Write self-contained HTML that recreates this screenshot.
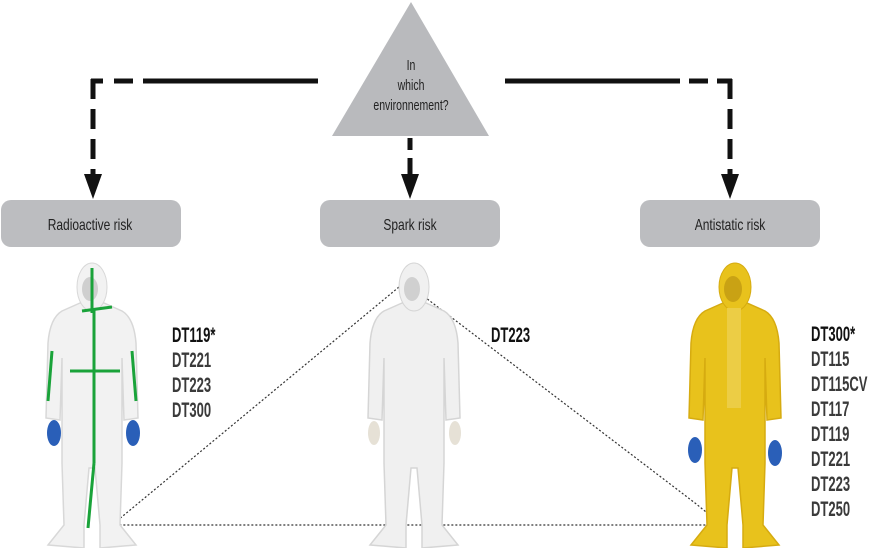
<!DOCTYPE html>
<html><head><meta charset="utf-8"><style>
html,body{margin:0;padding:0;background:#fff;width:870px;height:548px;overflow:hidden}
svg text{font-family:"Liberation Sans",sans-serif}
</style></head><body>
<svg width="870" height="548" viewBox="0 0 870 548" xmlns="http://www.w3.org/2000/svg">
<defs>
<path id="suit" d="M -12,40 L -30,48 Q -42,55 -44,80 L -46,155 L -32,157 L -30,95 L -30,200 L -28,262 L -44,282 L -8,285 L -8,262 L -3,205 L 3,205 L 8,262 L 8,285 L 44,282 L 28,262 L 30,200 L 30,95 L 32,157 L 46,155 L 44,80 Q 42,55 30,48 L 12,40 Z"/>
</defs>
<!-- triangle -->
<polygon points="411,2 332,136 489,136" fill="#b9babd"/>
<g font-size="15" fill="#222" text-anchor="middle">
<text transform="translate(411 70) scale(0.7 1)">In</text>
<text transform="translate(411 90) scale(0.7 1)">which</text>
<text transform="translate(411 110) scale(0.7 1)">environnement?</text>
</g>
<!-- connectors -->
<g stroke="#111" stroke-width="5" fill="none">
<line x1="91" y1="81" x2="318" y2="81"/>
<line x1="505" y1="81" x2="732" y2="81"/>
</g>
<g stroke="#fff" stroke-width="6">
<line x1="103" y1="81" x2="114" y2="81"/><line x1="133" y1="81" x2="143" y2="81"/>
<line x1="680" y1="81" x2="689" y2="81"/><line x1="708" y1="81" x2="717" y2="81"/>
</g>
<g stroke="#111" stroke-width="5" stroke-dasharray="20 10">
<line x1="93" y1="79" x2="93" y2="178"/>
<line x1="730" y1="79" x2="730" y2="178"/>
</g>
<g stroke="#111" stroke-width="5">
<line x1="410" y1="138" x2="410" y2="150"/><line x1="410" y1="158" x2="410" y2="178"/>
</g>
<polygon points="84,174 102,174 93,199" fill="#111"/>
<polygon points="401,174 419,174 410,199" fill="#111"/>
<polygon points="721,174 739,174 730,199" fill="#111"/>
<!-- boxes -->
<rect x="1" y="200" width="180" height="47" rx="10" fill="#bcbdc0"/>
<rect x="320" y="200" width="180" height="47" rx="10" fill="#bcbdc0"/>
<rect x="640" y="200" width="180" height="47" rx="10" fill="#bcbdc0"/>
<g font-size="16" fill="#222" text-anchor="middle">
<text transform="translate(90 230) scale(0.75 1)">Radioactive risk</text>
<text transform="translate(410 230) scale(0.75 1)">Spark risk</text>
<text transform="translate(730 230) scale(0.75 1)">Antistatic risk</text>
</g>
<!-- dotted triangle -->
<polyline points="405,282 112,525 722,525 695,503 405,282" fill="none" stroke="#333" stroke-width="1.2" stroke-dasharray="2 2"/>
<!-- left suit -->
<g transform="translate(92 263)">
<use href="#suit" fill="#f2f2f2" stroke="#d8d8d8" stroke-width="1.5"/>
<ellipse cx="0" cy="24" rx="15" ry="24" fill="#f2f2f2" stroke="#d8d8d8"/>
<ellipse cx="-2" cy="26" rx="8" ry="12" fill="#cfcfcf"/>
<g stroke="#1aa33a" stroke-width="3" fill="none">
<line x1="0" y1="5" x2="0" y2="50"/><line x1="-10" y1="48" x2="20" y2="44"/>
<line x1="2" y1="45" x2="2" y2="200"/><line x1="-22" y1="108" x2="28" y2="108"/>
<line x1="2" y1="200" x2="-4" y2="265"/><line x1="-40" y1="88" x2="-44" y2="138"/><line x1="40" y1="88" x2="44" y2="138"/>
</g>
<ellipse cx="-38" cy="170" rx="7" ry="13" fill="#2a5fb8"/>
<ellipse cx="41" cy="170" rx="7" ry="13" fill="#2a5fb8"/>
</g>
<!-- middle suit -->
<g transform="translate(414 263)">
<use href="#suit" fill="#f0f0f0" stroke="#d5d5d5" stroke-width="1.5"/>
<ellipse cx="0" cy="24" rx="15" ry="24" fill="#f0f0f0" stroke="#d5d5d5"/>
<ellipse cx="-2" cy="26" rx="8" ry="12" fill="#d0d0d0"/>
<ellipse cx="-40" cy="170" rx="6" ry="12" fill="#e6e1d6"/>
<ellipse cx="41" cy="170" rx="6" ry="12" fill="#e6e1d6"/>
</g>
<!-- right suit -->
<g transform="translate(735 263)">
<use href="#suit" fill="#e8c21c" stroke="#d6ab10" stroke-width="1.5"/>
<ellipse cx="0" cy="24" rx="16" ry="24" fill="#e8c21c" stroke="#d6ab10"/>
<ellipse cx="-2" cy="26" rx="9" ry="13" fill="#c9a214"/>
<rect x="-8" y="45" width="14" height="100" fill="#eccd45"/>
<ellipse cx="-40" cy="187" rx="7" ry="13" fill="#2a5fb8"/>
<ellipse cx="40" cy="190" rx="7" ry="13" fill="#2a5fb8"/>
</g>
<!-- product lists -->
<g font-size="21" fill="#3a3a3a" font-weight="bold">
<text transform="translate(172 342) scale(0.62 1)" fill="#111">DT119*</text>
<text transform="translate(172 367) scale(0.62 1)">DT221</text>
<text transform="translate(172 392) scale(0.62 1)">DT223</text>
<text transform="translate(172 417) scale(0.62 1)">DT300</text>
<text transform="translate(491 342) scale(0.62 1)" fill="#111">DT223</text>
<text transform="translate(811 341) scale(0.62 1)" fill="#111">DT300*</text>
<text transform="translate(811 366) scale(0.62 1)">DT115</text>
<text transform="translate(811 391) scale(0.62 1)">DT115CV</text>
<text transform="translate(811 416) scale(0.62 1)">DT117</text>
<text transform="translate(811 441) scale(0.62 1)">DT119</text>
<text transform="translate(811 466) scale(0.62 1)">DT221</text>
<text transform="translate(811 491) scale(0.62 1)">DT223</text>
<text transform="translate(811 516) scale(0.62 1)">DT250</text>
</g>
</svg>
</body></html>
